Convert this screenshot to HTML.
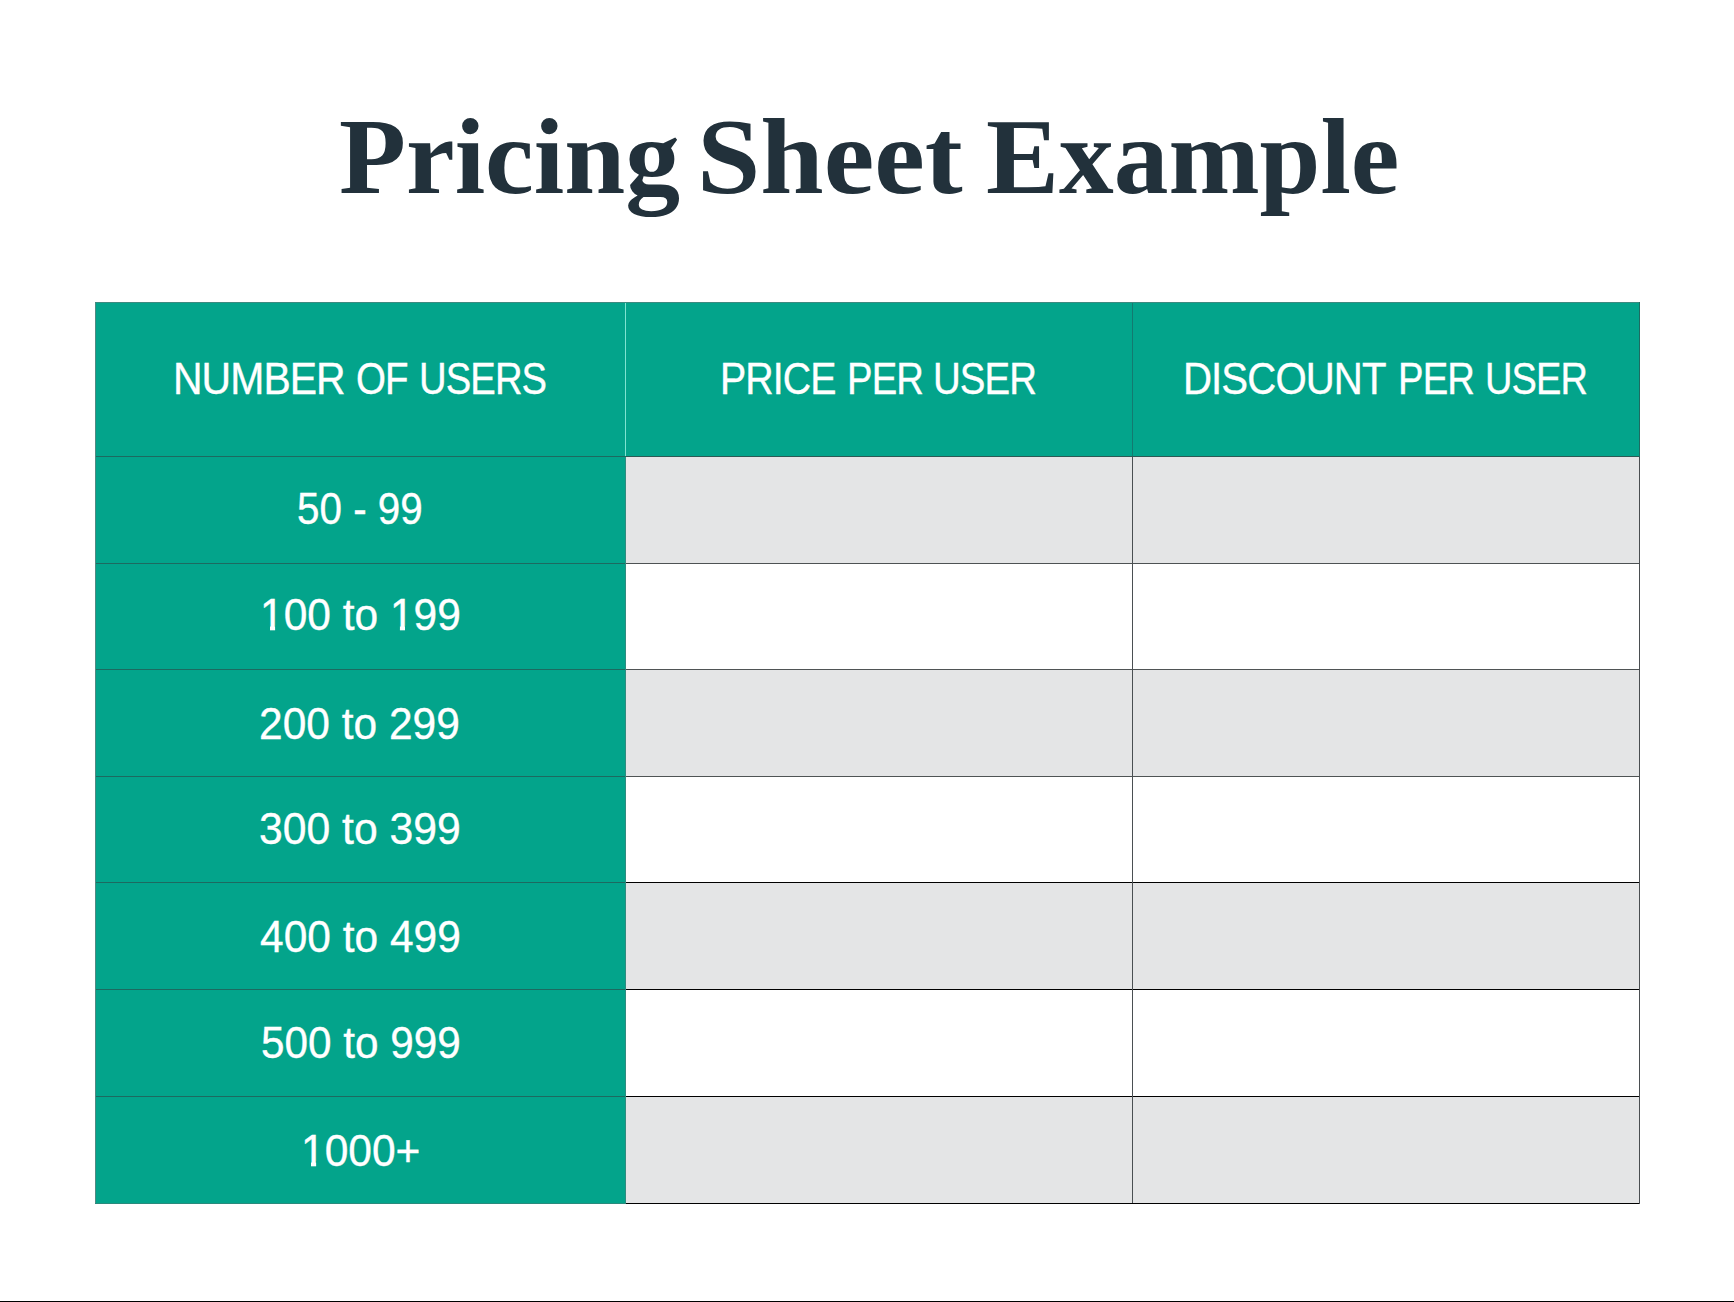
<!DOCTYPE html>
<html><head><meta charset="utf-8">
<style>
html,body{margin:0;padding:0;background:#fff;}
body{width:1734px;height:1302px;position:relative;overflow:hidden;}
.t{position:absolute;white-space:nowrap;transform-origin:0 0;}
.ti{font-family:"Liberation Serif",serif;font-weight:bold;color:#22313b;font-size:109px;line-height:1;}
.r{position:absolute;}
.h{font-family:"Liberation Sans",sans-serif;color:#fff;font-size:44px;line-height:1;-webkit-text-stroke:0.35px #fff;}
.one{display:inline-block;clip-path:polygon(-5% -5%,105% -5%,105% 0.745em,calc(0.3398em + 0.7px) 0.745em,calc(0.3398em + 0.7px) 105%,calc(0.2515em - 0.7px) 105%,calc(0.2515em - 0.7px) 0.745em,-5% 0.745em);}
.hd{letter-spacing:-1px;}
.tl{background:#03a48b;}
.gr{background:#e4e5e6;}
.hl{position:absolute;height:1px;}
.vl{position:absolute;width:1px;}
</style></head><body>
<div id="w1" class="t ti" style="left:339px;top:102px;transform:scaleX(1.006);">Pricing</div>
<div id="w2" class="t ti" style="left:697px;top:102px;transform:scaleX(1.045);">Sheet</div>
<div id="w3" class="t ti" style="left:986px;top:102px;transform:scaleX(1.004);">Example</div>

<div class="r tl" style="left:95px;top:302px;width:1545px;height:154px;"></div>
<div class="r tl" style="left:95px;top:456px;width:531px;height:748px;"></div>
<div class="r gr" style="left:626px;top:457px;width:1014px;height:106px;"></div>
<div class="r gr" style="left:626px;top:670px;width:1014px;height:106px;"></div>
<div class="r gr" style="left:626px;top:883px;width:1014px;height:106px;"></div>
<div class="r gr" style="left:626px;top:1097px;width:1014px;height:106px;"></div>

<div class="hl" style="left:95px;top:302px;width:1545px;background:#3d8a80;"></div>
<div class="vl" style="left:625px;top:303px;height:153px;background:#7fe3d0;"></div>
<div class="vl" style="left:1132px;top:303px;height:153px;background:#137a70;"></div>
<div class="hl" style="left:95px;top:456px;width:531px;background:#1d6a60;"></div>
<div class="hl" style="left:626px;top:456px;width:1014px;background:#2c5a55;"></div>
<div class="hl" style="left:95px;top:563px;width:531px;background:#1d6a60;"></div>
<div class="hl" style="left:95px;top:669px;width:531px;background:#1d6a60;"></div>
<div class="hl" style="left:95px;top:776px;width:531px;background:#1d6a60;"></div>
<div class="hl" style="left:95px;top:882px;width:531px;background:#1d6a60;"></div>
<div class="hl" style="left:95px;top:989px;width:531px;background:#1d6a60;"></div>
<div class="hl" style="left:95px;top:1096px;width:531px;background:#1d6a60;"></div>
<div class="hl" style="left:626px;top:563px;width:1014px;background:#4d5254;"></div>
<div class="hl" style="left:626px;top:669px;width:1014px;background:#4f5455;"></div>
<div class="hl" style="left:626px;top:776px;width:1014px;background:#4f5455;"></div>
<div class="hl" style="left:626px;top:882px;width:1014px;background:#000;"></div>
<div class="hl" style="left:626px;top:989px;width:1014px;background:#000;"></div>
<div class="hl" style="left:626px;top:1096px;width:1014px;background:#000;"></div>
<div class="hl" style="left:626px;top:1203px;width:1014px;background:#000;"></div>
<div class="hl" style="left:95px;top:1203px;width:531px;background:#2a8a7c;"></div>
<div class="vl" style="left:95px;top:303px;height:900px;background:#4f8a82;"></div>
<div class="vl" style="left:625px;top:457px;height:746px;background:#2f8c80;"></div>
<div class="vl" style="left:1132px;top:457px;height:746px;background:#4a4f52;"></div>
<div class="vl" style="left:1639px;top:302px;height:155px;background:#1d6c62;"></div>
<div class="vl" style="left:1639px;top:457px;height:747px;background:#4a4e51;"></div>

<div id="h1a" class="t h hd" style="left:173.18px;top:357.0px;transform:scaleX(0.9298);">NUMBER</div>
<div id="h1b" class="t h hd" style="left:356.04px;top:357.0px;transform:scaleX(0.8738);">OF</div>
<div id="h1c" class="t h hd" style="left:419.10px;top:357.0px;transform:scaleX(0.8678);">USERS</div>
<div id="h2a" class="t h hd" style="left:719.85px;top:357.0px;transform:scaleX(0.8936);">PRICE</div>
<div id="h2b" class="t h hd" style="left:847.20px;top:357.0px;transform:scaleX(0.8692);">PER</div>
<div id="h2c" class="t h hd" style="left:933.40px;top:357.0px;transform:scaleX(0.8726);">USER</div>
<div id="h3a" class="t h hd" style="left:1183.47px;top:357.0px;transform:scaleX(0.9135);">DISCOUNT</div>
<div id="h3b" class="t h hd" style="left:1398.11px;top:357.0px;transform:scaleX(0.8692);">PER</div>
<div id="h3c" class="t h hd" style="left:1485.16px;top:357.0px;transform:scaleX(0.8633);">USER</div>

<div id="r0" class="t h" style="left:297.17px;top:487.0px;transform:scaleX(0.9178);">50 - 99</div>
<div id="r1" class="t h" style="left:260.09px;top:593.0px;transform:scaleX(0.9654);"><span class="one">1</span>00 to <span class="one">1</span>99</div>
<div id="r2" class="t h" style="left:259.09px;top:702.4px;transform:scaleX(0.9659);">200 to 299</div>
<div id="r3" class="t h" style="left:259.05px;top:807.4px;transform:scaleX(0.9705);">300 to 399</div>
<div id="r4" class="t h" style="left:260.03px;top:915.2px;transform:scaleX(0.9659);">400 to 499</div>
<div id="r5" class="t h" style="left:261.07px;top:1020.8px;transform:scaleX(0.9607);">500 to 999</div>
<div id="r6" class="t h" style="left:301.10px;top:1128.6px;transform:scaleX(0.9664);"><span class="one">1</span>000+</div>

<div class="r" style="left:0;top:1301px;width:1734px;height:1px;background:#000;"></div>
</body></html>
